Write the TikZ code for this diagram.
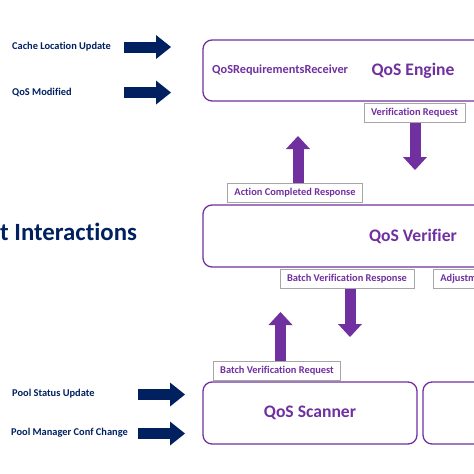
\documentclass[tikz,border=0pt]{standalone}
\usepackage{fontspec}
\setmainfont{Carlito}[Ligatures=NoCommon]
\usetikzlibrary{arrows.meta, positioning}
\definecolor{qpurple}{HTML}{7030A0}
\definecolor{qnavy}{HTML}{002060}
\definecolor{lblgray}{HTML}{A6A6A6}

\begin{document}
\begin{tikzpicture}[
    x=1pt, y=-1pt,
    comp/.style={draw=qpurple, line width=1.3pt, rounded corners=9pt, fill=white,
        text=qpurple, font=\bfseries\fontsize{17.6}{20}\selectfont},
    msg/.style={draw=lblgray, line width=0.8pt, fill=white, text=qpurple,
        font=\bfseries\fontsize{10.4}{12}\selectfont, inner xsep=7pt, minimum height=19pt},
    evt/.style={anchor=west, text=qnavy, font=\bfseries\fontsize{10.4}{12}\selectfont, inner sep=0pt},
    inarrow/.style={qnavy, line width=11pt, -{Triangle[width=24pt, length=15pt, line width=0pt]}},
    flow/.style={qpurple, line width=11pt, -{Triangle[width=24pt, length=13pt, line width=0pt]}}
]
\useasboundingbox (0,0) rectangle (474,474);
\clip (0,0) rectangle (474,474);

% ── Title (cut at the left) ───────────────────────────────
\node[anchor=west, text=qnavy, font=\bfseries\fontsize{24.8}{28}\selectfont, inner sep=0pt]
    (title) at (0,232) {t Interactions};

% ── Components ────────────────────────────────────────────
\node[comp, minimum width=420pt, minimum height=61pt] (engine)   at (413,70.5) {QoS Engine};
\node[comp, minimum width=420pt, minimum height=62pt] (verifier) at (413,236)  {QoS Verifier};
\node[comp, minimum width=214pt, minimum height=62pt] (scanner)  at (310,413)  {QoS Scanner};
\node[comp, minimum width=214pt, minimum height=62pt] (adjuster) at (530,413)  {};
\node[anchor=west, text=qpurple, font=\bfseries\fontsize{12.3}{14}\selectfont, inner sep=0pt]
    (receiver) at (212,70) {QoSRequirementsReceiver};

% ── Messages ──────────────────────────────────────────────
\node[msg] (vreq)   at (414.5,113)  {Verification Request};
\node[msg] (acr)    at (295,193)    {Action Completed Response};
\node[msg] (bvresp) at (347,279)    {Batch Verification Response};
\node[msg, anchor=west] (adjmsg) at (433,279) {Adjustment Request};
\node[msg] (bvreq)  at (277,370.5)  {Batch Verification Request};

% ── Purple flow arrows ────────────────────────────────────
\coordinate (uptip1) at (298,136);
\coordinate (dntip1) at (415,170);
\coordinate (dntip2) at (350,337);
\coordinate (uptip2) at (280.5,312);
\draw[flow] (acr.north -| uptip1)    -- (uptip1);
\draw[flow] (vreq.south -| dntip1)   -- (dntip1);
\draw[flow] (bvresp.south -| dntip2) -- (dntip2);
\draw[flow] (bvreq.north -| uptip2)  -- (uptip2);

% ── External events ───────────────────────────────────────
\node[evt] (cache) at (12,47)  {Cache Location Update};
\node[evt] (qmod)  at (12,93)  {QoS Modified};
\node[evt] (pstat) at (12,394) {Pool Status Update};
\node[evt] (pmgr)  at (11,433) {Pool Manager Conf Change};

\foreach \n/\y/\xa/\xb in {cache/47/124/171, qmod/92.5/124/171, pstat/394.5/138/185, pmgr/433.5/138/185}
{
    \coordinate (\n s) at (\xa,\y);
    \coordinate (\n t) at (\xb,\y);
    \draw[inarrow] (\n s) -- (\n t);
}

\end{tikzpicture}
\end{document}
